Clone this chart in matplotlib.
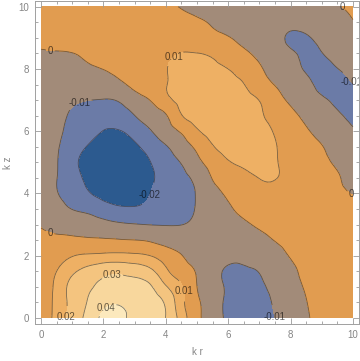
import numpy as np
import matplotlib.pyplot as plt
import matplotlib.tri as mtri

plt.rcParams['font.family'] = ['Liberation Sans', 'DejaVu Sans']

# sample grid (k r, k z)
kr = np.linspace(0, 10, 21)
kz = np.linspace(0, 10, 21)

# field values, one row per k z (0 .. 10), columns k r (0 .. 10)
rows = [
    [0.004, 0.0133, 0.024, 0.033, 0.0425, 0.0435, 0.036, 0.0335, 0.0298, 0.0156, 0.0024, -0.0055, -0.0115, -0.014, -0.0135, -0.010, -0.0055, -0.001, 0.003, 0.006, 0.007],
    [0.004, 0.0128, 0.0232, 0.0305, 0.037, 0.039, 0.037, 0.034, 0.0285, 0.013, 0.0016, -0.0058, -0.0115, -0.0135, -0.013, -0.009, -0.005, -0.0003, 0.0035, 0.006, 0.0072],
    [0.0035, 0.0125, 0.0235, 0.029, 0.032, 0.034, 0.0335, 0.031, 0.021, 0.011, 0.0, -0.0065, -0.011, -0.0125, -0.0115, -0.0075, -0.0035, 0.001, 0.0045, 0.0065, 0.0075],
    [0.0025, 0.010, 0.018, 0.0235, 0.027, 0.028, 0.0265, 0.0225, 0.012, 0.0045, -0.0007, -0.0065, -0.0112, -0.011, -0.0097, -0.0055, -0.002, 0.0025, 0.005, 0.0065, 0.0072],
    [0.0015, 0.005, 0.0095, 0.0115, 0.0125, 0.013, 0.0122, 0.010, 0.005, 0.0003, -0.0035, -0.006, -0.0078, -0.008, -0.0065, -0.0035, 0.0006, 0.004, 0.006, 0.007, 0.007],
    [0.0009, 0.0012, 0.0015, 0.0012, 0.0009, 0.0005, 0.0001, -0.001, -0.0035, -0.005, -0.006, -0.0065, -0.0062, -0.0045, -0.0025, 0.0003, 0.003, 0.0055, 0.0065, 0.0065, 0.006],
    [-0.0004, -0.002, -0.0035, -0.005, -0.0068, -0.0085, -0.0095, -0.0102, -0.0104, -0.0101, -0.0085, -0.006, -0.0035, -0.0012, 0.0012, 0.0035, 0.0055, 0.0062, 0.006, 0.0052, 0.004],
    [-0.003, -0.006, -0.0102, -0.0125, -0.016, -0.0185, -0.019, -0.018, -0.0155, -0.0125, -0.0095, -0.0055, -0.0012, 0.002, 0.0045, 0.0065, 0.0072, 0.007, 0.006, 0.004, 0.0018],
    [-0.005, -0.0095, -0.0145, -0.0192, -0.0222, -0.0232, -0.0225, -0.020, -0.0165, -0.0128, -0.0095, -0.0035, 0.0015, 0.005, 0.0078, 0.0082, 0.007, 0.005, 0.003, 0.0012, -0.0002],
    [-0.006, -0.0098, -0.0165, -0.0215, -0.0243, -0.0252, -0.0245, -0.0215, -0.016, -0.012, -0.0075, 0.0005, 0.005, 0.008, 0.0101, 0.0102, 0.008, 0.005, 0.0028, 0.0005, -0.0015],
    [-0.0065, -0.0095, -0.0175, -0.0225, -0.025, -0.0255, -0.0245, -0.0202, -0.0145, -0.0095, -0.0025, 0.004, 0.0093, 0.0115, 0.012, 0.0105, 0.0075, 0.004, 0.0015, -0.001, -0.003],
    [-0.0065, -0.0092, -0.015, -0.0205, -0.0235, -0.024, -0.0215, -0.0165, -0.0108, -0.0045, 0.002, 0.0093, 0.0135, 0.0145, 0.0135, 0.0105, 0.0065, 0.003, 0.0003, -0.003, -0.0055],
    [-0.006, -0.0085, -0.0125, -0.017, -0.0202, -0.0205, -0.0165, -0.0107, -0.0045, 0.0012, 0.0088, 0.0135, 0.0155, 0.015, 0.0135, 0.0092, 0.005, 0.001, -0.003, -0.0065, -0.0092],
    [-0.005, -0.0075, -0.0115, -0.0155, -0.0165, -0.0145, -0.0101, -0.0055, -0.0008, 0.0095, 0.0135, 0.0155, 0.0155, 0.0145, 0.0115, 0.0065, 0.0025, -0.0025, -0.0065, -0.0092, -0.0112],
    [-0.0035, -0.0055, -0.0082, -0.0098, -0.0105, -0.0092, -0.0045, 0.0002, 0.0075, 0.012, 0.014, 0.0148, 0.0142, 0.0125, 0.0098, 0.0035, -0.0015, -0.0065, -0.0092, -0.0112, -0.0125],
    [-0.0025, -0.0032, -0.004, -0.0042, -0.0035, -0.0018, 0.0025, 0.0065, 0.0097, 0.0125, 0.0138, 0.0135, 0.0122, 0.0102, 0.0045, -0.0003, -0.0045, -0.0085, -0.0112, -0.0118, -0.0102],
    [-0.0015, -0.0018, -0.0015, -0.0008, 0.0001, 0.002, 0.005, 0.0078, 0.0098, 0.0115, 0.0122, 0.0115, 0.0100, 0.0065, 0.0012, -0.0035, -0.0075, -0.0105, -0.0112, -0.0101, -0.0085],
    [-0.0004, -0.0003, -0.0001, 0.0012, 0.003, 0.005, 0.0068, 0.0082, 0.0093, 0.0101, 0.0101, 0.0088, 0.0055, 0.0018, -0.0025, -0.0065, -0.0092, -0.0108, -0.0101, -0.0085, -0.0065],
    [0.0012, 0.0015, 0.0025, 0.0037, 0.005, 0.0063, 0.0072, 0.0078, 0.008, 0.0075, 0.0055, 0.0027, 0.0005, -0.0028, -0.0058, -0.0082, -0.0108, -0.0106, -0.0085, -0.006, -0.003],
    [0.0025, 0.0028, 0.0035, 0.0045, 0.0055, 0.0062, 0.0065, 0.006, 0.0048, 0.003, 0.0012, -0.0008, -0.003, -0.005, -0.0068, -0.0078, -0.008, -0.007, -0.0052, -0.003, -0.0003],
    [0.0035, 0.0038, 0.0042, 0.0048, 0.0052, 0.0052, 0.0048, 0.0035, 0.0015, -0.0004, -0.002, -0.0035, -0.0048, -0.0058, -0.0062, -0.0062, -0.0055, -0.004, -0.0022, -0.0005, 0.0012],
]

levels = [-0.02, -0.01, 0.0, 0.01, 0.02, 0.03, 0.04]
band_colors = ['#2c5a8f', '#6b7ba7', '#a28b79', '#e19c50', '#eeb064',
               '#f4c47f', '#f8d79d', '#fce9bd']

# where the labels sit (k r, k z)
label_pos = [(0.3, 8.65), (1.2, 7.0), (4.2, 8.45), (9.5, 9.95), (9.95, 7.6),
             (3.5, 3.95), (9.85, 3.86), (0.3, 2.78), (2.3, 1.25), (4.4, 0.85),
             (2.05, 0.38), (0.7, 0.05), (7.6, 0.05)]

V = np.array(rows)
X, Y = np.meshgrid(kr, kz)
nx = len(kr)
tris = []
for j in range(len(kz) - 1):
    for i in range(nx - 1):
        a = j * nx + i
        tris.append([a, a + 1, a + nx + 1])
        tris.append([a, a + nx + 1, a + nx])
tri = mtri.Triangulation(X.ravel(), Y.ravel(), tris)
interp = mtri.CubicTriInterpolator(tri, V.ravel(), kind='min_E')
tri_f, v_f = mtri.UniformTriRefiner(tri).refine_field(V.ravel(), triinterpolator=interp, subdiv=3)

fig = plt.figure(figsize=(3.6, 3.61), dpi=100)
ax = fig.add_axes([0.0967, 0.102, 0.9011, 0.8966])

ax.tricontourf(tri_f, v_f, levels=[-1] + levels + [1], colors=band_colors)
cs = ax.tricontour(tri_f, v_f, levels=levels, colors='#2a2a2a', linewidths=0.6,
                   alpha=0.6, linestyles='solid')
texts = ax.clabel(cs, manual=label_pos, inline=True, inline_spacing=2, fontsize=7,
                  colors='k', fmt=lambda v: f"{v:g}")
for t in texts:
    t.set_rotation(0)

ax.set_xlim(-0.2, 10.2)
ax.set_ylim(-0.2, 10.2)
ax.set_xticks([0, 2, 4, 6, 8, 10])
ax.set_yticks([0, 2, 4, 6, 8, 10])
ax.set_xticks(np.arange(0, 10.01, 0.5), minor=True)
ax.set_yticks(np.arange(0, 10.01, 0.5), minor=True)
ax.tick_params(which='both', direction='in', top=True, right=True, color='#9a9a9a',
               labelcolor='#858585', labelsize=7, width=0.6)
ax.tick_params(which='major', length=4.5, pad=4)
ax.tick_params(which='minor', length=2.5)
for s in ax.spines.values():
    s.set_color('#a0a0a0')
    s.set_linewidth(0.7)
ax.set_xlabel('k r', fontsize=7, color='#858585', labelpad=5)
ax.set_ylabel('k z', fontsize=7, color='#858585', labelpad=4)

fig.savefig('out.png', dpi=100)
